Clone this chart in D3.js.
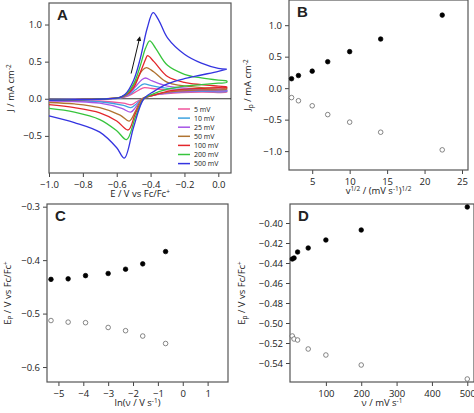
<!DOCTYPE html>
<html>
<head>
<meta charset="utf-8">
<script src="https://cdn.jsdelivr.net/npm/d3@7"></script>
<style>
body { margin: 0; background: #fff; }
text { font-family: "Open Sans", Lato, sans-serif; fill: #222; }
</style>
</head>
<body>
<svg id="chart" width="474" height="413"></svg>
<script>
// Panel A: cyclic voltammograms, [E, J] points (forward then reverse)
const scanLabels = ['5 mV', '10 mV', '25 mV', '50 mV', '100 mV', '200 mV', '500 mV'];
const scanColors = ['#f0559c', '#3fa3e0', '#a655e6', '#b07432', '#e3262b', '#37c43c', '#3434e0'];
const cv5 = [[-1,-0.01],[-0.7,0],[-0.58,0.01],[-0.53,0.04],[-0.49,0.09],[-0.45,0.14],[-0.436,0.15],[-0.4,0.14],[-0.3,0.12],[-0.1,0.11],[0.05,0.1],
  [0.05,0.09],[-0.1,0.09],[-0.3,0.07],[-0.4,0.04],[-0.45,0.0],[-0.49,-0.05],[-0.513,-0.08],[-0.56,-0.06],[-0.7,-0.03],[-1,-0.015]];
const cv10 = [[-1,-0.01],[-0.7,0],[-0.58,0.01],[-0.53,0.05],[-0.49,0.12],[-0.45,0.19],[-0.435,0.2],[-0.4,0.18],[-0.3,0.14],[-0.1,0.12],[0.05,0.11],
  [0.05,0.1],[-0.1,0.1],[-0.3,0.08],[-0.4,0.04],[-0.45,0.0],[-0.49,-0.08],[-0.516,-0.12],[-0.56,-0.09],[-0.7,-0.04],[-1,-0.02]];
const cv25 = [[-1,-0.015],[-0.7,0],[-0.58,0.015],[-0.53,0.06],[-0.49,0.16],[-0.45,0.26],[-0.43,0.28],[-0.39,0.24],[-0.3,0.17],[-0.1,0.13],[0.05,0.12],
  [0.05,0.11],[-0.1,0.11],[-0.3,0.08],[-0.4,0.04],[-0.45,0.0],[-0.49,-0.12],[-0.517,-0.18],[-0.57,-0.13],[-0.7,-0.06],[-1,-0.03]];
const cv50 = [[-1,-0.02],[-0.7,0],[-0.58,0.02],[-0.53,0.08],[-0.49,0.22],[-0.45,0.38],[-0.425,0.42],[-0.38,0.36],[-0.3,0.22],[-0.1,0.15],[0.05,0.14],
  [0.05,0.13],[-0.1,0.12],[-0.3,0.09],[-0.4,0.04],[-0.45,0.0],[-0.49,-0.17],[-0.526,-0.3],[-0.58,-0.22],[-0.7,-0.12],[-0.85,-0.07],[-1,-0.05]];
const cv100 = [[-1,-0.02],[-0.8,-0.01],[-0.65,0],[-0.58,0.02],[-0.55,0.04],[-0.5,0.15],[-0.46,0.36],[-0.43,0.53],[-0.418,0.58],[-0.38,0.5],[-0.3,0.3],[-0.2,0.22],[-0.1,0.19],[0,0.17],[0.05,0.16],
  [0.05,0.15],[0,0.15],[-0.1,0.14],[-0.2,0.13],[-0.3,0.1],[-0.38,0.05],[-0.44,0],[-0.49,-0.2],[-0.532,-0.42],[-0.6,-0.3],[-0.7,-0.19],[-0.85,-0.12],[-1,-0.08]];
const cv200 = [[-1,-0.02],[-0.8,-0.01],[-0.65,0],[-0.58,0.02],[-0.55,0.05],[-0.5,0.2],[-0.46,0.45],[-0.43,0.68],[-0.405,0.78],[-0.37,0.68],[-0.3,0.45],[-0.2,0.33],[-0.1,0.28],[0,0.25],[0.05,0.24],
  [0.05,0.22],[0,0.21],[-0.1,0.19],[-0.2,0.17],[-0.3,0.13],[-0.38,0.07],[-0.44,0],[-0.49,-0.25],[-0.542,-0.55],[-0.6,-0.43],[-0.7,-0.28],[-0.85,-0.18],[-1,-0.13]];
const cv500 = [[-1,-0.02],[-0.8,-0.01],[-0.65,0],[-0.58,0.02],[-0.55,0.06],[-0.5,0.25],[-0.46,0.55],[-0.42,0.95],[-0.385,1.16],[-0.35,1.05],[-0.3,0.82],[-0.2,0.6],[-0.1,0.48],[0,0.41],[0.05,0.4],
  [0.05,0.4],[0,0.37],[-0.1,0.32],[-0.2,0.27],[-0.3,0.2],[-0.38,0.1],[-0.44,0],[-0.5,-0.38],[-0.555,-0.8],[-0.6,-0.66],[-0.7,-0.45],[-0.85,-0.32],[-1,-0.23]];
const cvSeries = [cv5, cv10, cv25, cv50, cv100, cv200, cv500];

// Panels B-D: peak data
const sqrtRate = [2.24, 3.16, 5, 7.07, 10, 14.14, 22.36];
const jpOx = [0.15, 0.2, 0.27, 0.42, 0.58, 0.78, 1.16];
const jpRed = [-0.15, -0.2, -0.28, -0.42, -0.54, -0.70, -0.98];
const lnRate = [-5.30, -4.61, -3.91, -3.00, -2.30, -1.61, -0.69];
const rate = [5, 10, 20, 50, 100, 200, 500];
const epOx = [-0.436, -0.435, -0.429, -0.425, -0.417, -0.407, -0.384];
const epRed = [-0.513, -0.516, -0.517, -0.526, -0.532, -0.542, -0.556];

const svg = d3.select('#chart');

// label parts: [text, 'sup' | 'sub' | undefined]
function label(t, parts) {
    parts.forEach(([s, k]) => {
        const ts = t.append('tspan').text(s);
        if (k === 'sup') ts.attr('baseline-shift', '45%').style('font-size', '6.5px');
        if (k === 'sub') ts.attr('baseline-shift', '-25%').style('font-size', '6.5px');
    });
}

function panel(opt) {
    const g = svg.append('g');
    const x = d3.scaleLinear().domain(opt.xd).range([opt.x0, opt.x1]);
    const y = d3.scaleLinear().domain(opt.yd).range([opt.y1, opt.y0]);
    g.append('g').attr('transform', `translate(0,${opt.y1})`)
        .call(d3.axisBottom(x).tickValues(opt.xt).tickFormat(opt.xf).tickSize(4).tickPadding(4));
    g.append('g').attr('transform', `translate(${opt.x0},0)`)
        .call(d3.axisLeft(y).tickValues(opt.yt).tickFormat(opt.yf).tickSize(4).tickPadding(3));
    g.selectAll('.domain').remove();
    g.selectAll('.tick line').attr('stroke', '#444');
    g.selectAll('.tick text').style('font-size', '9.5px').attr('fill', '#222');
    g.append('rect').attr('x', opt.x0).attr('y', opt.y0)
        .attr('width', opt.x1 - opt.x0).attr('height', opt.y1 - opt.y0)
        .attr('fill', 'none').attr('stroke', '#555').attr('stroke-width', 1.2);
    g.append('text').attr('x', opt.x0 + 8).attr('y', opt.y0 + 17)
        .style('font-family', 'Liberation Sans, Arial, sans-serif').style('font-weight', 'bold')
        .style('font-size', '15px').attr('fill', '#111').text(opt.letter);
    const xl = g.append('text').attr('x', (opt.x0 + opt.x1) / 2).attr('y', opt.y1 + 24)
        .attr('text-anchor', 'middle').style('font-size', '9.5px');
    label(xl, opt.xlab);
    const yl = g.append('text')
        .attr('transform', `translate(${opt.ylx},${(opt.y0 + opt.y1) / 2}) rotate(-90)`)
        .attr('text-anchor', 'middle').style('font-size', '9.5px');
    label(yl, opt.ylab);
    return { g, x, y };
}

const fmt1 = d3.format('.1f');
const fmt2 = d3.format('.2f');

// Panel A
const A = panel({
    letter: 'A', x0: 49, x1: 231, y0: 3, y1: 173,
    xd: [-1.0, 0.075], yd: [-1.0, 1.29],
    xt: [-1.0, -0.8, -0.6, -0.4, -0.2, 0.0], yt: [-0.5, 0.0, 0.5, 1.0],
    xf: fmt1, yf: fmt1, ylx: 14,
    xlab: [['E / V vs Fc/Fc'], ['+', 'sup']],
    ylab: [['J / mA cm'], ['-2', 'sup']]
});
A.g.append('line').attr('x1', 49).attr('x2', 231).attr('y1', A.y(0)).attr('y2', A.y(0)).attr('stroke', '#333');
const cvLine = d3.line().x(d => A.x(d[0])).y(d => A.y(d[1])).curve(d3.curveCatmullRom);
cvSeries.forEach((s, i) => {
    A.g.append('path').attr('d', cvLine(s)).attr('fill', 'none')
        .attr('stroke', scanColors[i]).attr('stroke-width', 1.3);
});
svg.append('defs').append('marker').attr('id', 'arr').attr('viewBox', '0 0 10 10')
    .attr('refX', 5).attr('refY', 5).attr('markerWidth', 5).attr('markerHeight', 5).attr('orient', 'auto')
    .append('path').attr('d', 'M0,0L10,5L0,10z').attr('fill', '#111');
A.g.append('line').attr('x1', A.x(-0.515)).attr('y1', A.y(0.34)).attr('x2', A.x(-0.466)).attr('y2', A.y(0.81))
    .attr('stroke', '#111').attr('stroke-width', 1).attr('marker-end', 'url(#arr)');
const leg = A.g.append('g');
scanLabels.forEach((l, i) => {
    const yy = 109 + i * 9.1;
    leg.append('line').attr('x1', 178).attr('x2', 190).attr('y1', yy).attr('y2', yy)
        .attr('stroke', scanColors[i]).attr('stroke-width', 1.5);
    leg.append('text').attr('x', 194).attr('y', yy + 2.5).style('font-size', '7px').text(l);
});

function scatter(P, xs, ys, filled) {
    P.g.selectAll(null).data(xs).enter().append('circle')
        .attr('cx', d => P.x(d)).attr('cy', (d, i) => P.y(ys[i])).attr('r', 2.3)
        .attr('fill', filled ? '#000' : '#fff').attr('stroke', filled ? '#000' : '#555').attr('stroke-width', 0.7);
}

// Panel B
const B = panel({
    letter: 'B', x0: 289, x1: 468, y0: 0, y1: 170,
    xd: [1.9, 25.8], yd: [-1.3, 1.4],
    xt: [5, 10, 15, 20, 25], yt: [-1.0, -0.5, 0.0, 0.5, 1.0],
    xf: d3.format('d'), yf: fmt1, ylx: 251,
    xlab: [['v'], ['1/2', 'sup'], [' / (mV s'], ['-1', 'sup'], [')'], ['1/2', 'sup']],
    ylab: [['J'], ['p', 'sub'], [' / mA cm'], ['-2', 'sup']]
});
scatter(B, sqrtRate, jpOx, true);
scatter(B, sqrtRate, jpRed, false);

// Panel C
const C = panel({
    letter: 'C', x0: 47, x1: 228, y0: 204, y1: 382,
    xd: [-5.46, 1.82], yd: [-0.628, -0.295],
    xt: [-5, -4, -3, -2, -1, 0, 1], yt: [-0.6, -0.5, -0.4, -0.3],
    xf: d3.format('d'), yf: fmt1, ylx: 11,
    xlab: [['ln(ν / V s'], ['-1', 'sup'], [')']],
    ylab: [['E'], ['P', 'sub'], [' / V vs Fc/Fc'], ['+', 'sup']]
});
scatter(C, lnRate, epOx, true);
scatter(C, lnRate, epRed, false);

// Panel D
const D = panel({
    letter: 'D', x0: 290, x1: 474, y0: 204, y1: 382,
    xd: [-1.5, 519], yd: [-0.559, -0.381],
    xt: [100, 200, 300, 400, 500], yt: [-0.54, -0.52, -0.50, -0.48, -0.46, -0.44, -0.42, -0.40],
    xf: d3.format('d'), yf: fmt2, ylx: 245,
    xlab: [['ν / mV s'], ['-1', 'sup']],
    ylab: [['E'], ['p', 'sub'], [' / V vs Fc/Fc'], ['+', 'sup']]
});
scatter(D, rate, epOx, true);
scatter(D, rate, epRed, false);
</script>
</body>
</html>
